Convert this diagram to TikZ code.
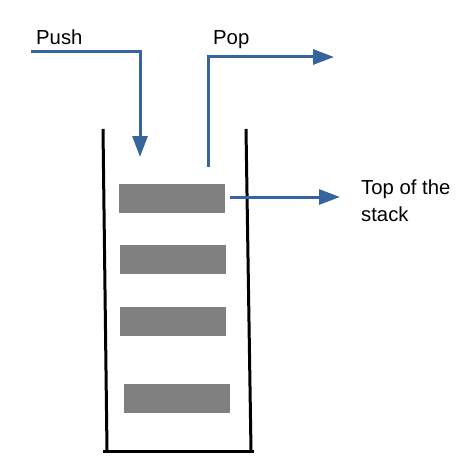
\documentclass[tikz,border=0pt]{standalone}
\usepackage{fontspec}
\setmainfont{Liberation Sans}
\usetikzlibrary{arrows.meta}
\definecolor{arrowblue}{HTML}{36649C}
\definecolor{boxgray}{HTML}{808080}
\tikzset{
  flow/.style={draw=arrowblue, line width=3pt, -{Triangle[length=21pt,width=15pt]}},
  wall/.style={draw=black, line width=3pt},
  item/.style={fill=boxgray, draw=none, minimum width=106pt, minimum height=29pt, inner sep=0pt},
  lbl/.style={font=\fontsize{20.3pt}{27pt}\selectfont, inner sep=0pt}
}
\begin{document}
\begin{tikzpicture}[x=1pt,y=-1pt]
\useasboundingbox (0,0) rectangle (460,460);
% walls
\coordinate (lt) at (103,129);
\coordinate (lb) at (107,451);
\coordinate (rt) at (246,129);
\coordinate (rb) at (251,451);
\coordinate (bl) at (103,451);
\coordinate (br) at (254,451);
\draw[wall] (lt) -- (lb);
\draw[wall] (rt) -- (rb);
\draw[wall] (bl) -- (br);
% items
\node[item] (i1) at (172,198.5) {};
\node[item] (i2) at (172.5,259.5) {};
\node[item] (i3) at (172.5,321.5) {};
\node[item] (i4) at (177,398.5) {};
% labels
\node[lbl, anchor=base west] (push) at (36,45) {Push};
\node[lbl, anchor=base west] (pop) at (213,45) {Pop};
\node[lbl, anchor=base west] (top1) at (361,194) {Top of the};
\node[lbl, anchor=base west] (top2) at (361,221) {stack};
% push arrow
\coordinate (ps) at (31,52);
\coordinate (pc) at (140,52);
\coordinate (pe) at (140,157);
\draw[flow] (ps) -- (pc) -- (pe);
% pop arrow
\coordinate (os) at (208,167);
\coordinate (oc) at (208,57);
\coordinate (oe) at (334,57);
\draw[flow] (os) -- (oc) -- (oe);
% top arrow
\coordinate (ts) at (230,197);
\coordinate (te) at (340,197);
\draw[flow] (ts) -- (te);
\end{tikzpicture}
\end{document}
